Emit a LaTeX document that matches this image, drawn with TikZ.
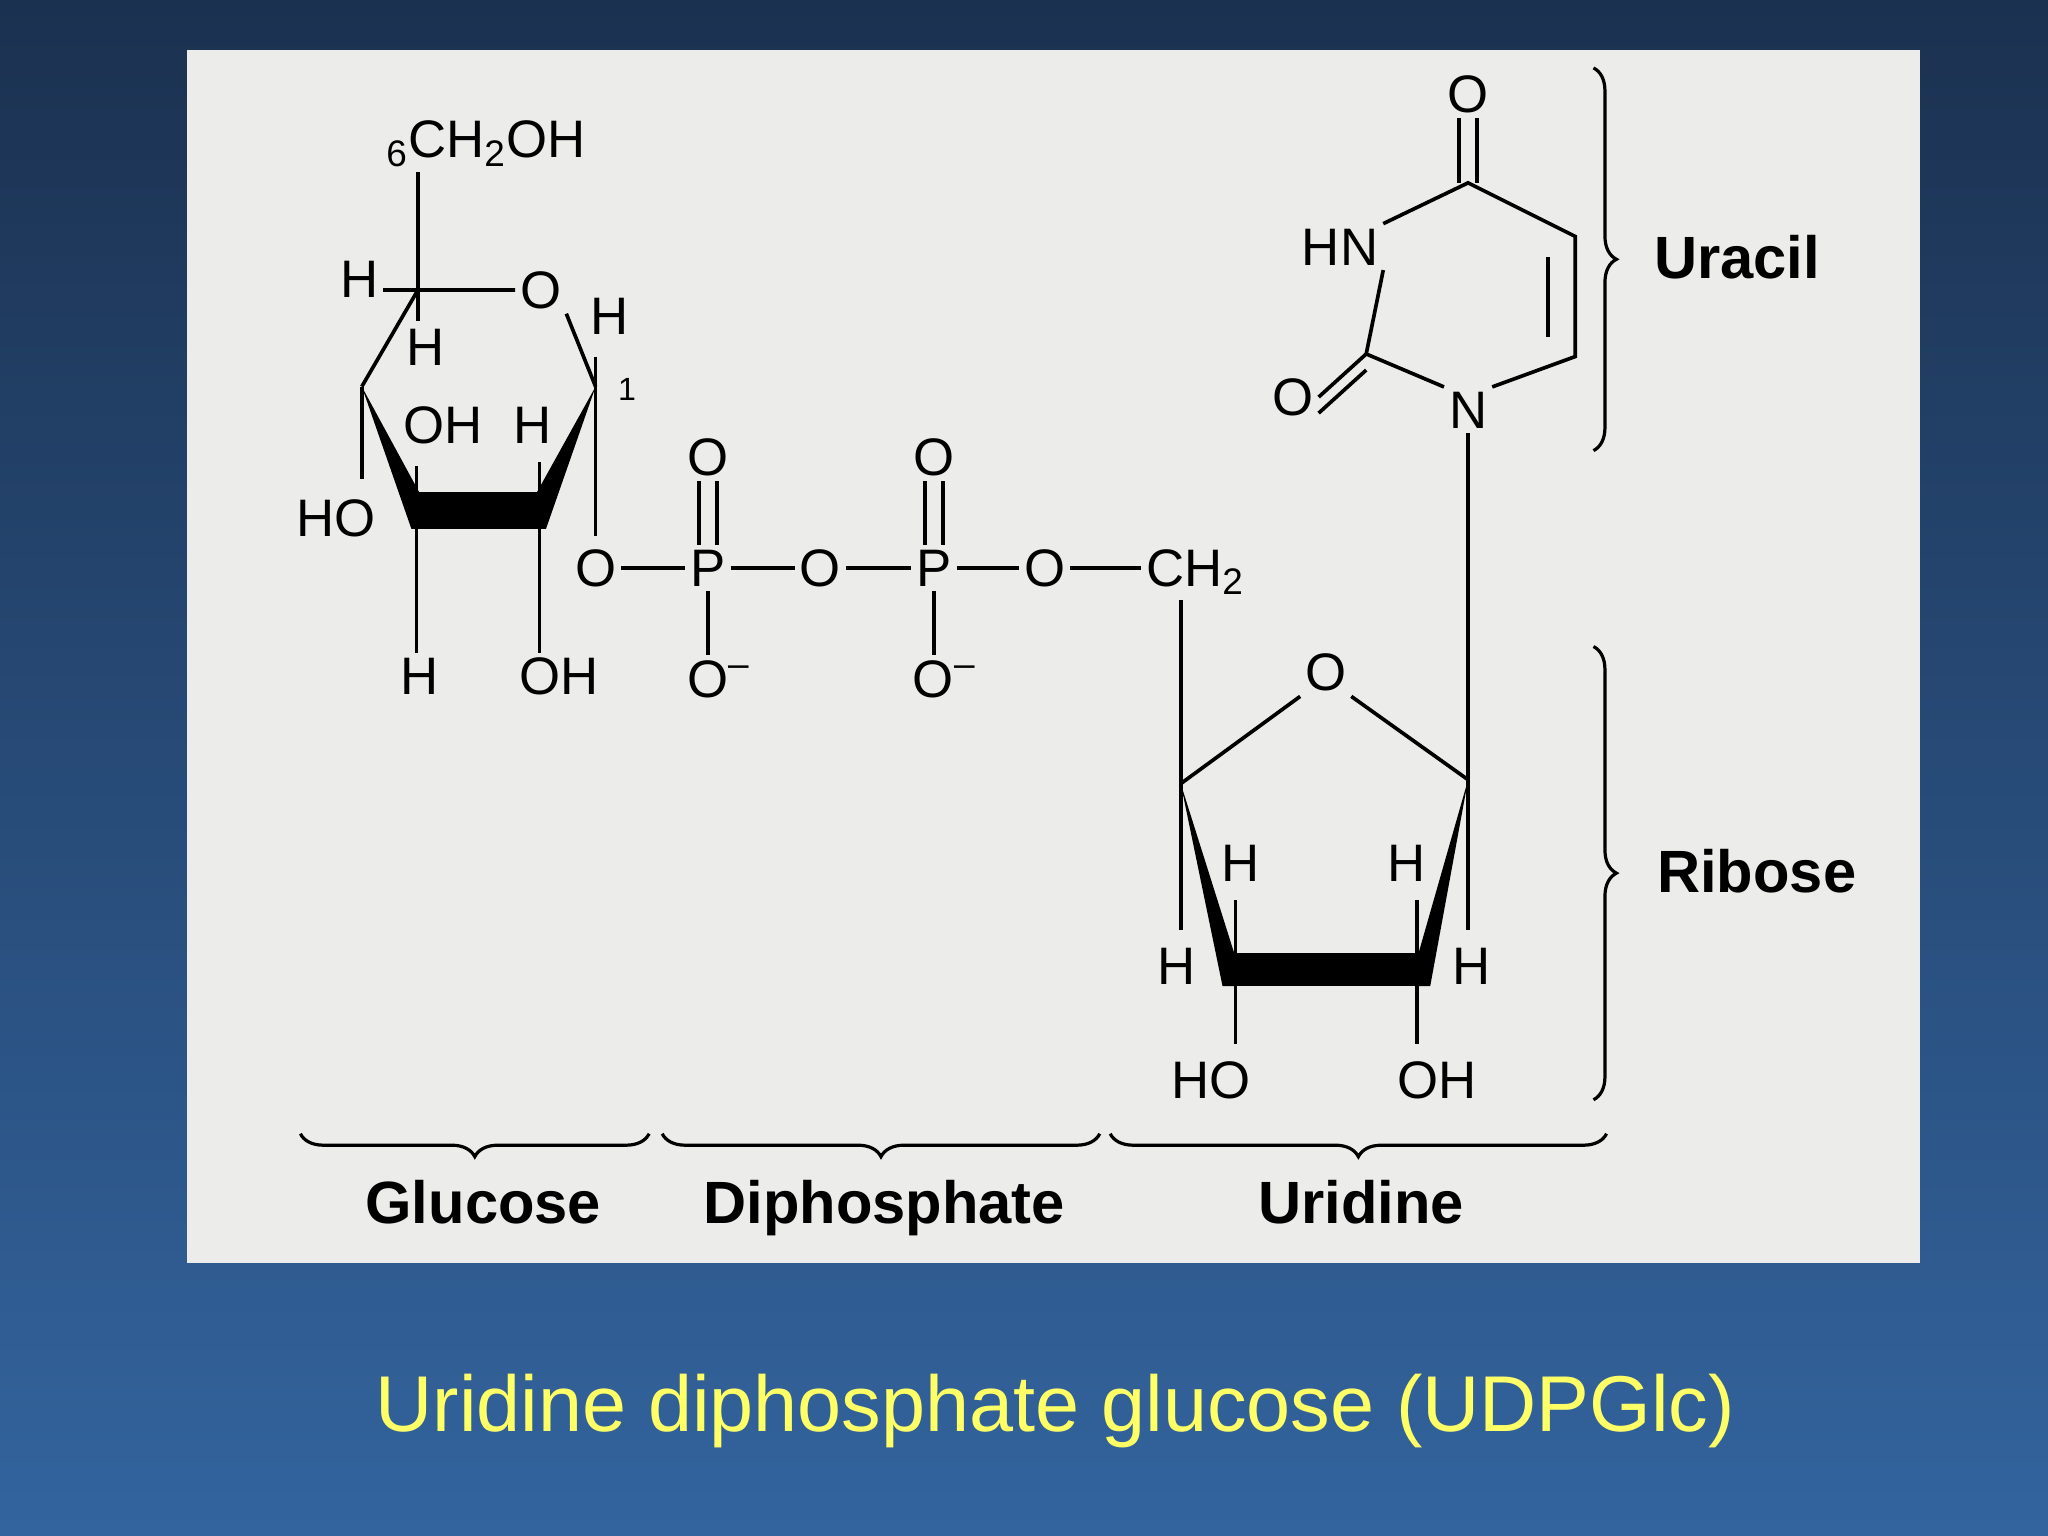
\documentclass[tikz,border=0pt]{standalone}
\usepackage{fontspec}
\setmainfont{Liberation Sans}
\usetikzlibrary{decorations.pathreplacing}
\definecolor{bgtop}{HTML}{1B3150}
\definecolor{bgbot}{HTML}{33649E}
\definecolor{paper}{HTML}{ECECEA}
\definecolor{capt}{HTML}{FFFF66}
\begin{document}
\begin{tikzpicture}[x=0.02cm,y=-0.02cm,
  atm/.style={font=\fontsize{23}{26}\selectfont,inner sep=2pt},
  lab/.style={font=\fontsize{26}{28}\selectfont\bfseries,anchor=base},
  bd/.style={line width=1.6pt},
  br/.style={decorate,decoration={brace,amplitude=10pt},line width=1.4pt}]
\shade[top color=bgtop,bottom color=bgbot] (0,0) rectangle (1568,1176);
\useasboundingbox (0,0) rectangle (1568,1176);
\fill[paper] (143,38) rectangle (1470,967);
% glucose
\coordinate (c5) at (320,222); \coordinate (c4) at (277,296);
\coordinate (c3) at (319,391); \coordinate (c2) at (413,391);
\coordinate (c1) at (456,296);
\node[atm] (o5) at (414,222) {O};
\node[atm] (c6) at (372,110) {\textsubscript{6}CH\textsubscript{2}OH};
\node[atm] (h5) at (275,214) {H};
\node[atm] (h5b) at (326,266) {H};
\node[atm] (h1) at (467,242) {H};
\node[atm,font=\fontsize{14}{16}\selectfont] (n1) at (480,298) {1};
\node[atm] (oh3) at (339,326) {OH};
\node[atm] (h2) at (408,326) {H};
\node[atm] (ho4) at (257,397) {HO};
\node[atm] (h3) at (321,518) {H};
\node[atm] (oh2) at (428,518) {OH};
\draw[bd] (c5) -- (o5.west) (o5.south east) -- (c1) (c5) -- (c4);
\draw[bd] (c5) -- (c6.south west -| c5);
\draw[bd] (h5.east |- c5) -- (c5) -- (c5 |- 0,246);
\draw[bd] (c1 |- 0,273) -- (c1 |- 0,410);
\draw[bd] (c3) -- (c3 |- 0,357) (c2) -- (c2 |- 0,354);
\draw[bd] (c4) -- (c4 |- 0,367);
\draw[bd] (c3) -- (c3 |- h3.north) (c2) -- (c2 |- oh2.north);
\fill (318,377) rectangle (414,405);
\fill (c4) -- (321,377) -- (321,405) -- (315,405) -- cycle;
\fill (c1) -- (418,405) -- (411,405) -- (411,377) -- cycle;
% phosphates
\node[atm] (oa) at (456,435) {O};
\node[atm] (pa) at (542,435) {P};
\node[atm] (ob) at (628,435) {O};
\node[atm] (pb) at (715,435) {P};
\node[atm] (oc) at (800,435) {O};
\node[atm] (ch2) at (915,438) {CH\textsubscript{2}};
\node[atm] (oda) at (542,350) {O};
\node[atm] (odb) at (715,350) {O};
\node[atm] (oma) at (550,520) {O\textsuperscript{–}};
\node[atm] (omb) at (723,520) {O\textsuperscript{–}};
\draw[bd] (oa) -- (pa) -- (ob) -- (pb) -- (oc) -- (oc -| ch2.west);
\draw[bd] ([xshift=-4pt]pa.north) -- ([xshift=-4pt]oda.south) ([xshift=4pt]pa.north) -- ([xshift=4pt]oda.south);
\draw[bd] ([xshift=-4pt]pb.north) -- ([xshift=-4pt]odb.south) ([xshift=4pt]pb.north) -- ([xshift=4pt]odb.south);
\draw[bd] (pa.south) -- (pa.south |- oma.north) (pb.south) -- (pb.south |- omb.north);
% ribose
\coordinate (r4) at (904,600); \coordinate (r1) at (1124,597);
\coordinate (r3) at (946,742); \coordinate (r2) at (1085,742);
\node[atm] (ro) at (1015,515) {O};
\draw[bd] (r4) -- (ch2.south -| r4);
\draw[bd] (r4) -- (ro.south west) (ro.south east) -- (r1);
\fill (943,730) rectangle (1088,755);
\fill (r4) -- (945,730) -- (945,755) -- (936,755) -- cycle;
\fill (r1) -- (1095,755) -- (1086,755) -- (1086,730) -- cycle;
\node[atm] (hr3) at (950,661) {H};
\node[atm] (hr2) at (1077,661) {H};
\node[atm] (hr4) at (901,740) {H};
\node[atm] (hr1) at (1127,740) {H};
\node[atm] (ho3) at (927,827) {HO};
\node[atm] (oh2r) at (1100,827) {OH};
\draw[bd] (r4) -- (r4 |- 0,712) (r1) -- (r1 |- 0,712);
\draw[bd] (r3) -- (r3 |- 0,689) (r2) -- (r2 |- 0,689);
\draw[bd] (r3) -- (r3 |- 0,799) (r2) -- (r2 |- 0,799);
% uracil
\node[atm] (n1u) at (1124,314) {N};
\node[atm] (hn) at (1026,189) {HN};
\node[atm] (ou2) at (990,304) {O};
\node[atm] (ou4) at (1124,72) {O};
\coordinate (u2) at (1046,271); \coordinate (u4) at (1124,140);
\coordinate (u5) at (1206,181); \coordinate (u6) at (1206,273);
\draw[bd] (n1u.south) -- (r1);
\draw[bd] (n1u.north west) -- (u2) -- (hn.south east) (hn.north east) -- (u4) -- (u5) -- (u6) -- (n1u.north east);
\draw[bd] (1185,197) -- (1185,258);
\draw[bd] (u2) -- (ou2.east) ([yshift=-7pt]u2) -- ([yshift=-7pt]ou2.east);
\draw[bd] ([xshift=-4pt]u4) -- ([xshift=-4pt]ou4.south) ([xshift=4pt]u4) -- ([xshift=4pt]ou4.south);
% braces
\draw[br] (1220,52) -- (1220,345);
\draw[br] (1220,495) -- (1220,842);
\draw[br] (497,868) -- (230,868);
\draw[br] (842,868) -- (507,868);
\draw[br] (1230,868) -- (850,868);
\node[lab] (luracil) at (1330,213) {Uracil};
\node[lab] (lribose) at (1345,683) {Ribose};
\node[lab] (lglu) at (370,937) {Glucose};
\node[lab] (ldi) at (677,937) {Diphosphate};
\node[lab] (luri) at (1042,937) {Uridine};
\node[text=capt,font=\fontsize{34.5}{40}\selectfont] (cap) at (808,1080) {Uridine diphosphate glucose (UDPGlc)};
\end{tikzpicture}
\end{document}
